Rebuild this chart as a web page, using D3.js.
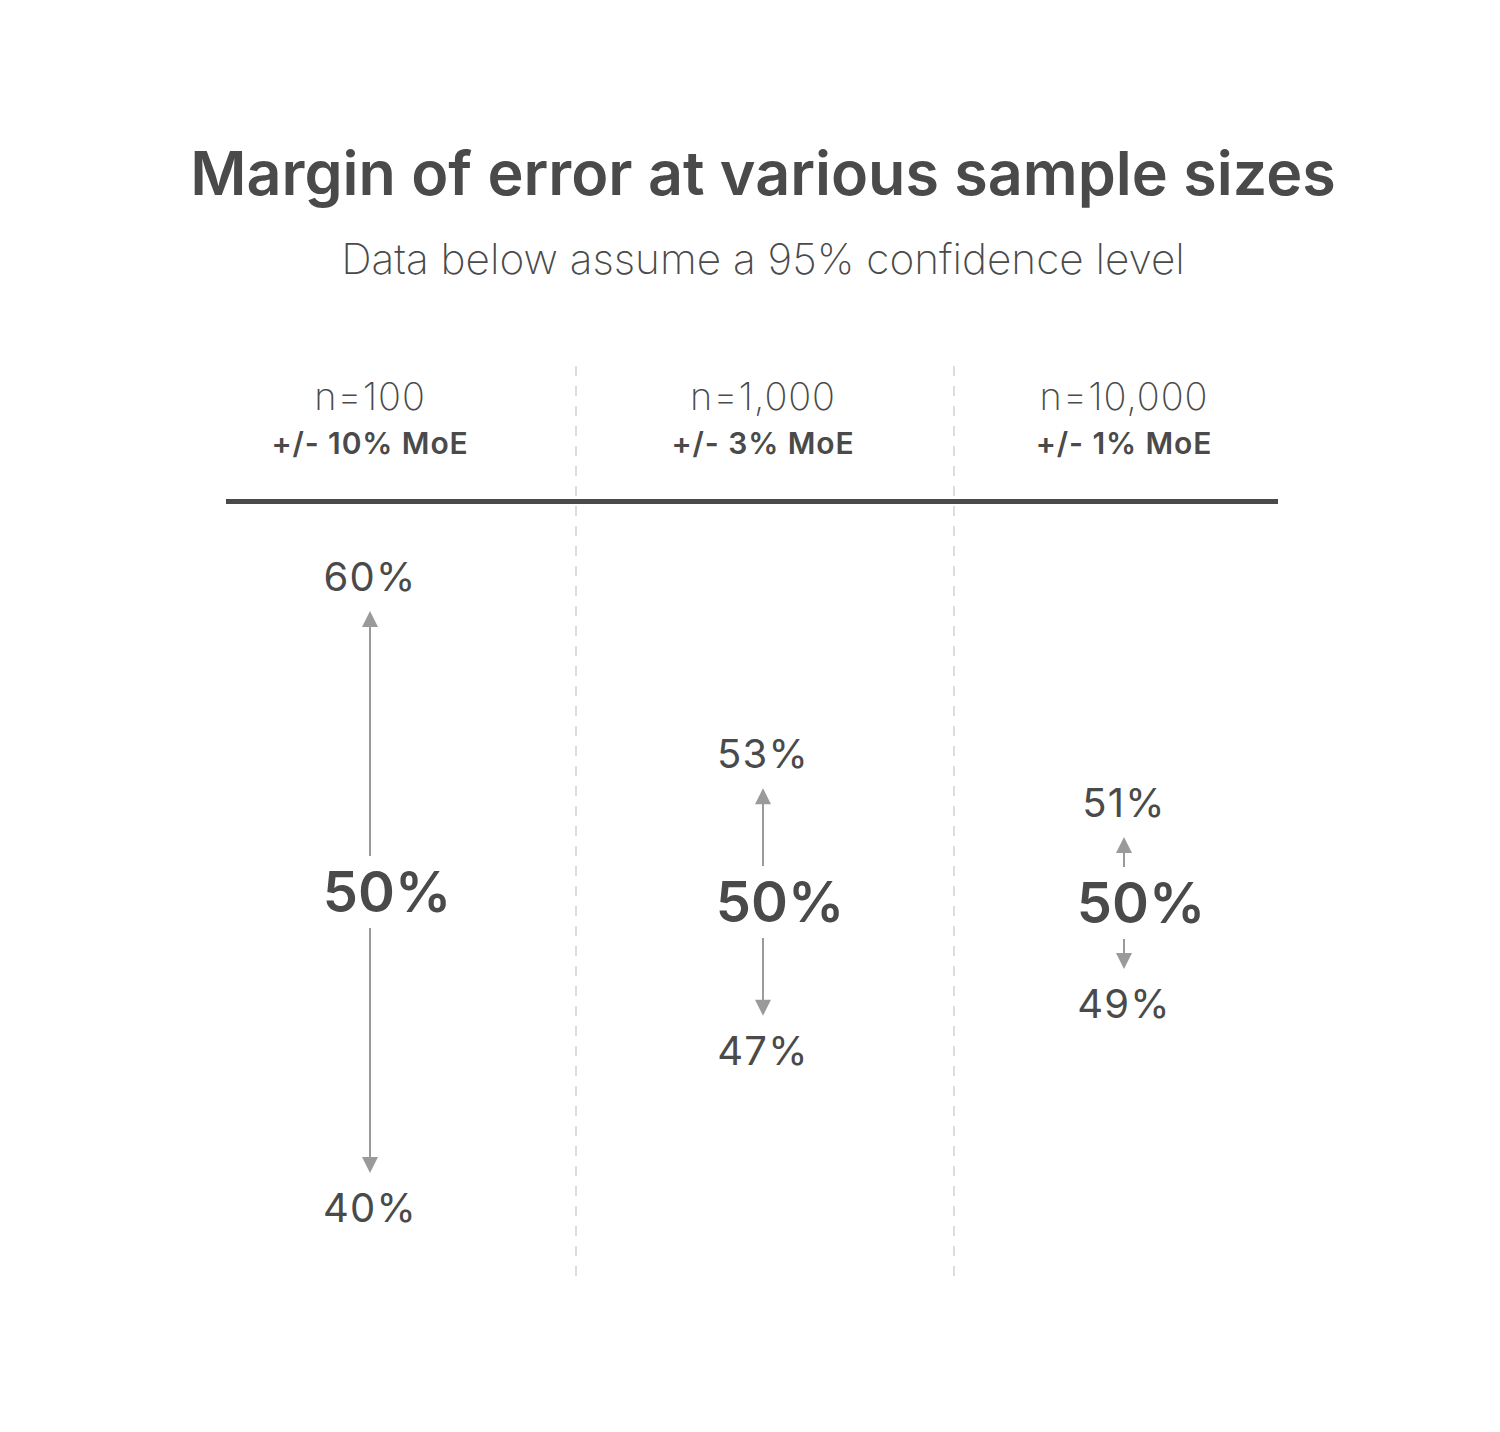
<!DOCTYPE html>
<html lang="en">
<head>
  <meta charset="UTF-8" />
  <title>Margin of error at various sample sizes</title>
  <script src="https://d3js.org/d3.v7.js"></script>
  <style>
    body { margin: 0; background: #fff; }
    text { font-family: Inter, "Noto Sans", sans-serif; fill: #4a4a4a; }
  </style>
</head>
<body>
  <div id="graph-space"></div>
<script>
  // Data
  const sampleLabels = ["n=100", "n=1,000", "n=10,000"];
  const moeLabels = ["+/- 10% MoE", "+/- 3% MoE", "+/- 1% MoE"];
  const estimate = [50, 50, 50];
  const moe = [10, 3, 1];

  const width = 1500
  const height = 1432
  const textColor = "#4a4a4a"
  const arrowColor = "#9a9a9a"

  const svg = d3.select("#graph-space")
    .append("svg")
    .attr("width", width)
    .attr("height", height)

  // title + subtitle
  svg.append("text")
    .attr("x", 763).attr("y", 195)
    .attr("text-anchor", "middle")
    .style("font-size", "61px")
    .style("font-weight", 600)
    .text("Margin of error at various sample sizes")

  svg.append("text")
    .attr("x", 763).attr("y", 274)
    .attr("text-anchor", "middle")
    .style("font-size", "42.3px")
    .style("font-weight", 250)
    .text("Data below assume a 95% confidence level")

  // column positions
  const idx = d3.range(sampleLabels.length)
  const xScale = d3.scaleOrdinal()
    .domain(idx)
    .range([370, 763, 1124])
  const centerY = d3.scaleOrdinal()
    .domain(idx)
    .range([892, 902, 903])
  // distance from 50% to arrow tip, per point of MoE
  const lenScale = d3.scaleLinear()
    .domain([0, 10])
    .range([42, 281])
  const gap = 36

  // dashed column separators
  svg.selectAll(".sep")
    .data([576, 954])
    .join("line")
    .attr("class", "sep")
    .attr("x1", d => d).attr("x2", d => d)
    .attr("y1", 366).attr("y2", 1284)
    .attr("stroke", "#dcdcdc")
    .attr("stroke-width", 2)
    .attr("stroke-dasharray", "10,10")

  // header rule
  svg.append("line")
    .attr("x1", 226).attr("x2", 1278)
    .attr("y1", 501.5).attr("y2", 501.5)
    .attr("stroke", textColor)
    .attr("stroke-width", 5)

  // headers
  svg.selectAll(".nlab")
    .data(idx)
    .join("text")
    .attr("class", "nlab")
    .attr("x", d => xScale(d))
    .attr("y", 410)
    .attr("text-anchor", "middle")
    .style("font-size", "38px")
    .style("font-weight", 250)
    .style("letter-spacing", "0.9px")
    .text(d => sampleLabels[d])

  svg.selectAll(".moelab")
    .data(idx)
    .join("text")
    .attr("class", "moelab")
    .attr("x", d => xScale(d))
    .attr("y", 454)
    .attr("text-anchor", "middle")
    .style("font-size", "30px")
    .style("font-weight", 600)
    .style("letter-spacing", "0.9px")
    .text(d => moeLabels[d])

  // arrows
  const g = svg.selectAll(".col")
    .data(idx)
    .join("g")
    .attr("class", "col")

  // up + down shafts
  ;[-1, 1].forEach(dir => {
    g.append("line")
      .attr("x1", d => xScale(d)).attr("x2", d => xScale(d))
      .attr("y1", d => centerY(d) + dir * gap)
      .attr("y2", d => centerY(d) + dir * (lenScale(moe[d]) - 14))
      .attr("stroke", arrowColor)
      .attr("stroke-width", 2)

    g.append("path")
      .attr("d", d => {
        const x = xScale(d)
        const tip = centerY(d) + dir * lenScale(moe[d])
        const base = tip - dir * 16
        const p = d3.path()
        p.moveTo(x, tip)
        p.lineTo(x - 8, base)
        p.lineTo(x + 8, base)
        p.closePath()
        return p.toString()
      })
      .attr("fill", arrowColor)
  })

  // upper / lower values
  g.append("text")
    .attr("x", d => xScale(d))
    .attr("y", d => centerY(d) - lenScale(moe[d]) - 20)
    .attr("text-anchor", "middle")
    .style("font-size", "40px")
    .style("font-weight", 400)
    .style("letter-spacing", "1.2px")
    .text(d => (estimate[d] + moe[d]) + "%")

  g.append("text")
    .attr("x", d => xScale(d))
    .attr("y", d => centerY(d) + lenScale(moe[d]) + 49)
    .attr("text-anchor", "middle")
    .style("font-size", "40px")
    .style("font-weight", 400)
    .style("letter-spacing", "1.2px")
    .text(d => (estimate[d] - moe[d]) + "%")

  // center estimate
  g.append("text")
    .attr("x", d => xScale(d) + 17)
    .attr("y", d => centerY(d))
    .attr("dy", "0.36em")
    .attr("text-anchor", "middle")
    .style("font-size", "56px")
    .style("font-weight", 600)
    .text(d => estimate[d] + "%")
</script>
</body>
</html>
